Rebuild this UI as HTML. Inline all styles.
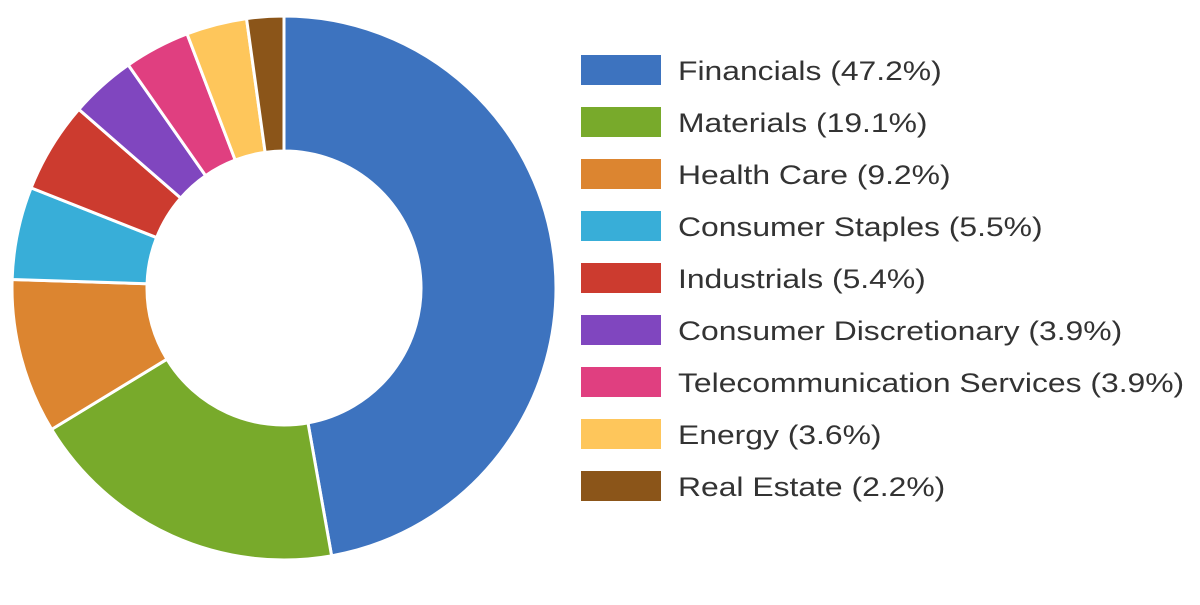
<!DOCTYPE html>
<html><head><meta charset="utf-8"><style>
body{margin:0;background:#fff;width:1200px;height:600px;overflow:hidden;font-family:"Liberation Sans",Arial,sans-serif}
</style></head><body>
<svg id="s" width="1200" height="600" xmlns="http://www.w3.org/2000/svg"></svg>
<script>
var d=[["Financials",47.2,"#3d73bf"],["Materials",19.1,"#78aa2b"],["Health Care",9.2,"#dc8530"],["Consumer Staples",5.5,"#38aed8"],["Industrials",5.4,"#cc3b2f"],["Consumer Discretionary",3.9,"#8046bf"],["Telecommunication Services",3.9,"#e03f80"],["Energy",3.6,"#fec65b"],["Real Estate",2.2,"#8b5519"]];
var cx=284,cy=288,R=272,r=137,a=-Math.PI/2,h="";
function p(rad,ang){return (cx+rad*Math.cos(ang)).toFixed(2)+","+(cy+rad*Math.sin(ang)).toFixed(2)}
d.forEach(function(e,i){var b=a+e[1]/100*2*Math.PI,l=(b-a)>Math.PI?1:0;
h+='<path d="M'+p(R,a)+' A'+R+','+R+' 0 '+l+' 1 '+p(R,b)+' L'+p(r,b)+' A'+r+','+r+' 0 '+l+' 0 '+p(r,a)+' Z" fill="'+e[2]+'" stroke="#fff" stroke-width="3" stroke-linejoin="round"/>';
a=b;
var y=70+i*52;
h+='<rect x="581" y="'+(y-15)+'" width="80" height="30" fill="'+e[2]+'"/>';
h+='<text transform="translate(678,'+(y+10)+') scale(1.18,1)" x="0" y="0" font-size="27" fill="#333" font-family="Liberation Sans, Arial, sans-serif">'+e[0]+' ('+e[1].toFixed(1)+'%)</text>';
});
document.getElementById("s").innerHTML=h;
</script>
</body></html>
